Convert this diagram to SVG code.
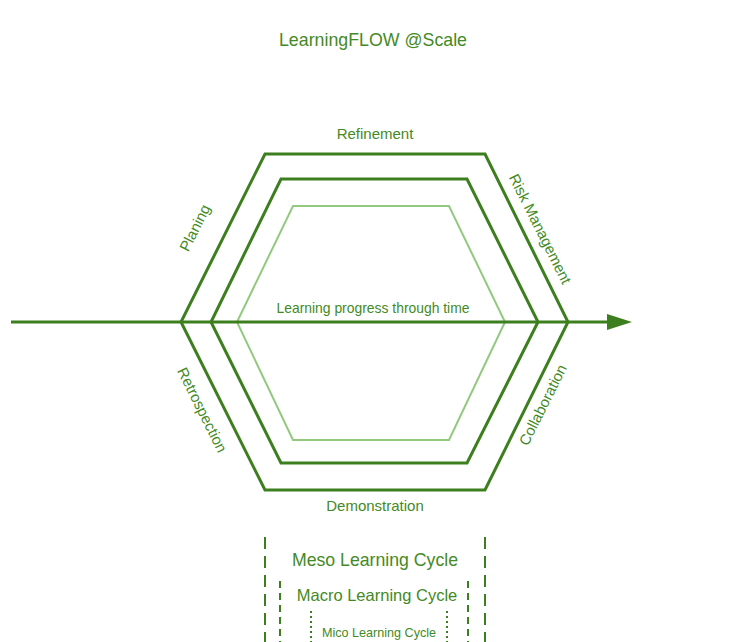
<svg xmlns="http://www.w3.org/2000/svg" width="750" height="642" viewBox="0 0 750 642">
<style>
text{font-family:"Liberation Sans",Arial,sans-serif;fill:#448a24;text-anchor:middle;}
.dk{fill:none;stroke:#3d7f1f;stroke-width:3;stroke-linejoin:miter;}
.lt{fill:none;stroke:#93c97f;stroke-width:2;}
.d1{stroke:#3d7f1f;stroke-width:2;stroke-dasharray:12 7;}
.d2{stroke:#3d7f1f;stroke-width:2;stroke-dasharray:7 5;}
.d3{stroke:#3d7f1f;stroke-width:2;stroke-dasharray:2 3;}
</style>
<rect width="750" height="642" fill="#ffffff"/>
<g id="title"><text x="373" y="46" font-size="17.8">LearningFLOW @Scale</text></g>
<g id="outer-hexagon"><polygon class="dk" points="265,154 485,154 568,322 485,490 265,490 181,322"/></g>
<g id="middle-hexagon"><polygon class="dk" points="281,179 467,179 538,322 467,463 281,463 211,322"/></g>
<g id="inner-hexagon"><polygon class="lt" points="293,206 449,206 505,322 449,440 293,440 237,322"/></g>
<g id="connectors">
<line x1="11" y1="322" x2="610" y2="322" stroke="#3d7f1f" stroke-width="3"/>
<polygon points="607,314 632,322 607,330" fill="#3d7f1f"/>
</g>
<g id="labels">
<text x="375" y="139" font-size="15">Refinement</text>
<text x="373" y="313" font-size="13.9">Learning progress through time</text>
<text x="375" y="511" font-size="15">Demonstration</text>
<text x="0" y="0" font-size="15" transform="translate(195,228) rotate(-63.4) translate(0,5)">Planing</text>
<text x="0" y="0" font-size="15" transform="translate(540,229) rotate(63.4) translate(0,5)">Risk Management</text>
<text x="0" y="0" font-size="15" transform="translate(202,410) rotate(63.4) translate(0,5)">Retrospection</text>
<text x="0" y="0" font-size="15" transform="translate(543,405) rotate(-63.4) translate(0,5)">Collaboration</text>
</g>
<g id="meso-cycle">
<line class="d1" x1="265" y1="537" x2="265" y2="642"/>
<line class="d1" x1="485" y1="537" x2="485" y2="642"/>
<text x="375" y="566" font-size="17.7">Meso Learning Cycle</text>
</g>
<g id="macro-cycle">
<line class="d2" x1="280" y1="581" x2="280" y2="642"/>
<line class="d2" x1="468" y1="581" x2="468" y2="642"/>
<text x="377" y="601" font-size="16.5">Macro Learning Cycle</text>
</g>
<g id="mico-cycle">
<line class="d3" x1="311" y1="611" x2="311" y2="642"/>
<line class="d3" x1="447" y1="611" x2="447" y2="642"/>
<text x="379" y="637" font-size="12.6">Mico Learning Cycle</text>
</g>
</svg>
